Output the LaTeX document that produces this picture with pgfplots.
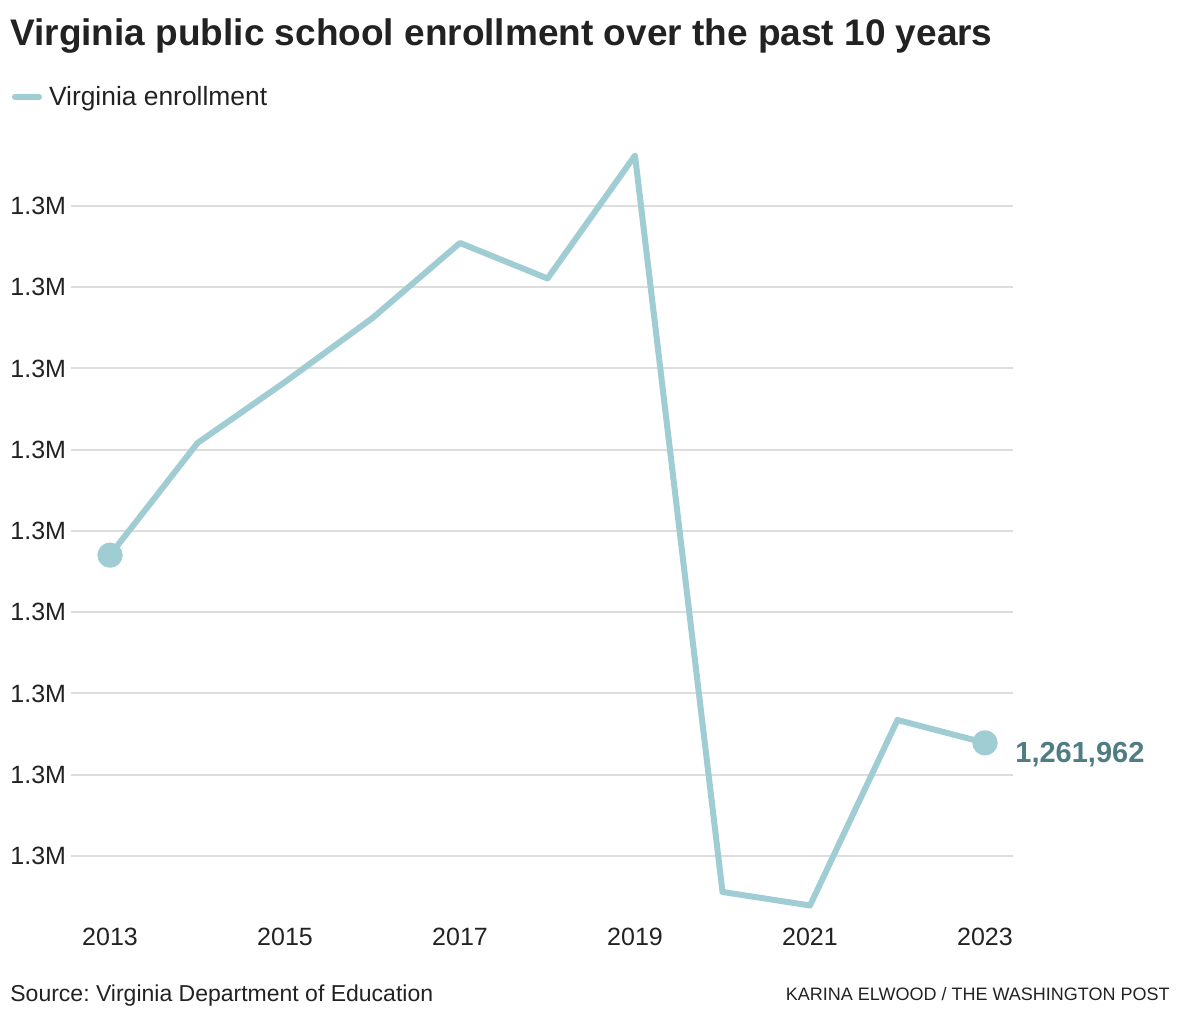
\documentclass[border=0pt]{standalone}
\usepackage{fontspec}
\setmainfont{Liberation Sans}
\usepackage{pgfplots}
\pgfplotsset{compat=1.18}
\definecolor{valine}{RGB}{160,204,211}
\definecolor{valabel}{RGB}{80,125,132}
\definecolor{txt}{RGB}{34,34,34}
\definecolor{gridc}{RGB}{221,221,221}
\frenchspacing

\begin{document}
\begin{tikzpicture}
\path[use as bounding box] (0,0) rectangle (590pt,510pt);
\node[anchor=base west, inner sep=0pt, text=txt, font=\fontsize{18.5}{22}\selectfont\bfseries]
  at (5pt,487pt) {Virginia public school enrollment over the past 10 years};
\begin{axis}[
  at={(35.5pt,41.375pt)}, anchor=south west,
  scale only axis,
  width=471pt, height=406.25pt,
  xmin=2012.554, xmax=2023.32,
  ymin=1250000, ymax=1300000,
  scaled y ticks=false,
  xtick={2013,2015,...,2023},
  ytick={1255000,1260000,...,1295000},
  yticklabels={1.3M,1.3M,1.3M,1.3M,1.3M,1.3M,1.3M,1.3M,1.3M},
  xticklabel={\pgfmathprintnumber[fixed,1000 sep={}]{\tick}},
  axis line style={draw=none},
  major tick length=0pt,
  ymajorgrids,
  grid style={gridc, line width=1pt},
  yticklabel style={anchor=west, inner sep=0pt, xshift=-30.5pt, text=txt,
    font=\fontsize{12.5}{15}\selectfont},
  xticklabel style={anchor=base, inner sep=0pt, yshift=-4pt, text=txt,
    font=\fontsize{12.5}{15}\selectfont},
  /pgf/number format/assume math mode=true,
  clip=false,
  legend style={at={(axis description cs:-0.0626,1.0342)}, anchor=west,
    draw=none, fill=none, inner sep=0pt, outer sep=0pt,
    font=\fontsize{13.2}{16}\selectfont, text=txt,
    /tikz/every odd column/.append style={column sep=1.5pt}},
  legend cell align=left,
  legend image code/.code={\draw[line width=3pt, line cap=round, valine] (0pt,0pt) -- (12pt,0pt);},
]
\addplot[valine, line width=3pt, line join=round,
  mark=*, mark indices={1,11}, mark size=4.8pt,
  mark options={draw=none, fill=valine}]
  coordinates {
  (2013,1273512) (2014,1280415) (2015,1284169) (2016,1288108)
  (2017,1292723) (2018,1290538) (2019,1298108) (2020,1252785)
  (2021,1251954) (2022,1263369) (2023,1261962)};
\addlegendentry{Virginia enrollment}
\node[anchor=west, inner sep=0pt, text=valabel, font=\fontsize{14.5}{17}\selectfont\bfseries]
  at (axis cs:2023,1261962) [xshift=15pt, yshift=-6pt] {1,261,962};
\end{axis}
\node[anchor=base west, inner sep=0pt, text=txt, font=\fontsize{11.5}{14}\selectfont]
  at (5pt,9pt) {Source: Virginia Department of Education};
\node[anchor=base east, inner sep=0pt, text=txt, font=\fontsize{9}{11}\selectfont]
  at (585pt,9.5pt) {KARINA ELWOOD / THE WASHINGTON POST};
\end{tikzpicture}
\end{document}
